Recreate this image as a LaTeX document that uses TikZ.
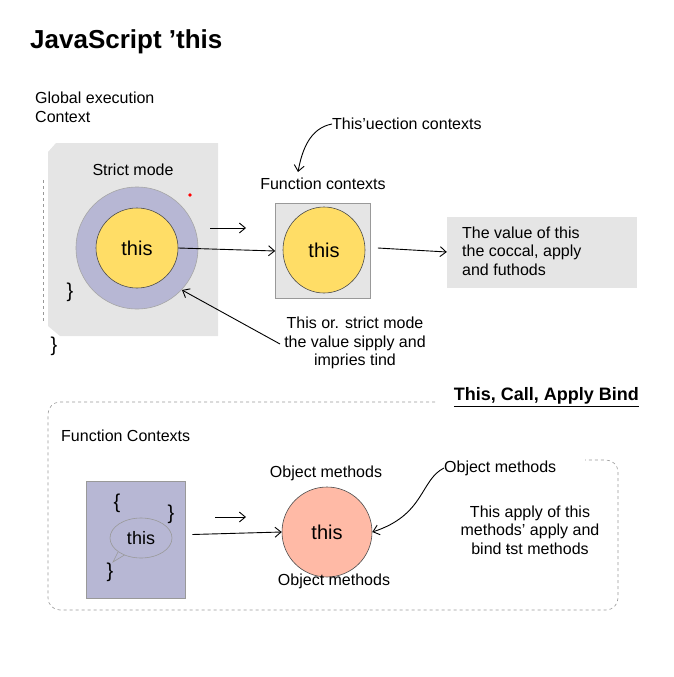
\documentclass[tikz,border=0pt]{standalone}
\usepackage{fontspec}
\setmainfont{Liberation Sans}
\usetikzlibrary{arrows.meta,shapes.geometric}
\begin{document}
\begin{tikzpicture}[x=1pt,y=-1pt,
  txt/.style={font=\fontsize{16}{19}\selectfont,inner sep=0pt},
  big/.style={font=\fontsize{20}{24}\selectfont,inner sep=0pt},
  arr/.style={-{Straight Barb[length=6pt,width=10pt]},line width=0.9pt},
  org/.style={fill=orange!45!yellow!60!white,draw=black!70,line width=0.6pt},
  dsh/.style={dashed,draw=black!40,line width=0.6pt}]
\useasboundingbox (0,0) rectangle (673,677);
\node[font=\bfseries\fontsize{26}{30}\selectfont,anchor=west,inner sep=0pt] (title) at (30,42) {JavaScript ’this};
\node[txt,anchor=north west,align=left] (gec) at (35,92) {Global execution\\Context};
% gray panel
\fill[black!10] (56,143) -- (218,143) -- (218,336) -- (60,336) -- (48,326) -- (48,152) -- cycle;
\draw[dsh] (43,180) -- (43,322);
\node[txt] (strict) at (133,170) {Strict mode};
\fill[red] (190,195) circle (1.8);
\node[circle,minimum size=122pt,fill=blue!25!gray!45!white,draw=black!35,line width=0.6pt] (outer) at (137,248) {};
\node[ellipse,minimum width=82pt,minimum height=80pt,org,big] (this1) at (137,248) {this};
\node[txt,font=\fontsize{20}{24}\selectfont] (b1) at (70,292) {\}};
\node[txt,font=\fontsize{20}{24}\selectfont] (b2) at (54,346) {\}};
\coordinate (s1) at (210,228); \coordinate (e1) at (246,228);
\draw[arr] (s1) -- (e1);
% function box
\node[draw=black!40,fill=black!10,minimum width=95pt,minimum height=95pt,line width=0.6pt] (fbox) at (323,251) {};
\node[ellipse,minimum width=82pt,minimum height=86pt,org,big] (this2) at (324,250) {this};
\draw[arr] (this1.east) -- (fbox.west);
\node[txt] (fc) at (323,184) {Function contexts};
\node[txt,anchor=west] (tuc) at (332,124) {This'uection contexts};
\draw[arr] (tuc.west) .. controls (310,128) and (302,150) .. (298,172);
\node[fill=black!10,minimum width=190pt,minimum height=71pt] (valbox) at (542,252) {};
\node[txt,align=left,anchor=west,font=\fontsize{16}{18.5}\selectfont] (valtxt) at (462,251) {The value of this\\ the coccal, apply\\ and futhods};
\draw[arr] (fbox.east) ++(7,-3) coordinate (s2) (s2) -- (valbox.west);
\node[txt,align=center,font=\fontsize{16}{18.5}\selectfont] (note1) at (355,343) {This or. strict mode\\the value sipply and\\ impries tind};
\coordinate (n1) at (280,344);
\draw[arr] (n1) -- (182,290);
% bottom section
\node[font=\bfseries\fontsize{18}{22}\selectfont,inner sep=1pt,anchor=east] (cab) at (640,397) {\underline{This, Call, Apply Bind}};
\draw[dsh,rounded corners=12pt] (435,402) -- (48,402) -- (48,610) -- (618,610) -- (618,460) -- (585,460);
\node[txt,anchor=west] (fc2) at (61,436) {Function Contexts};
\node[fill=blue!25!gray!45!white,draw=black!40,line width=0.6pt,minimum width=99pt,minimum height=117pt] (bbox) at (135.5,539.5) {};
\node[txt,font=\fontsize{20}{24}\selectfont] (c1) at (117,503) {\{};
\node[txt,font=\fontsize{20}{24}\selectfont] (c2) at (171,514) {\}};
\node[txt,font=\fontsize{20}{24}\selectfont] (c3) at (110,572) {\}};
\draw[draw=black!40,fill=blue!25!gray!45!white,line width=0.6pt] (118,552) -- (113,562) -- (126,554);
\node[ellipse,minimum width=62pt,minimum height=40pt,draw=black!40,fill=blue!25!gray!45!white,line width=0.6pt,txt,font=\fontsize{18}{22}\selectfont] (bub) at (141,538) {this};
\coordinate (s3) at (215,517); \coordinate (e3) at (246,517);
\draw[arr] (s3) -- (e3);
\node[circle,minimum size=90pt,fill=orange!45!red!35!white,draw=black!70,line width=0.6pt,big] (this3) at (327,532) {this};
\draw[arr] (bbox.east) ++(7,-5) coordinate (s4) (s4) -- (this3.west);
\node[txt] (om1) at (326,473) {Object methods};
\node[txt] (om2) at (334,581) {Object methods};
\node[txt,anchor=west] (om3) at (444,468) {Object methods};
\draw[arr] (om3.west) .. controls (420,480) and (425,515) .. (this3.east);
\node[txt,align=center,font=\fontsize{16}{18.5}\selectfont] (note2) at (530,530) {This apply of this\\methods' apply and\\bind ŧst methods};
\end{tikzpicture}
\end{document}
